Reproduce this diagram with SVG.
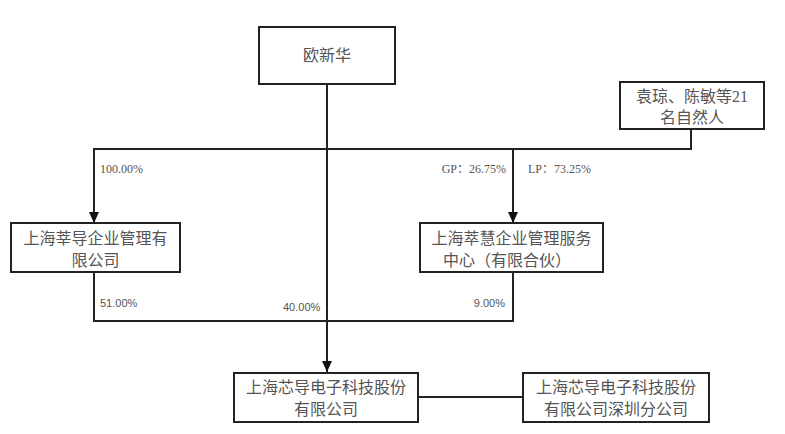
<svg xmlns="http://www.w3.org/2000/svg" width="785" height="434" viewBox="0 0 785 434">
<style>
.box{fill:#fff;stroke:#222;stroke-width:2}
.t{font-family:"Liberation Sans","Noto Sans CJK SC",sans-serif;font-size:16px;fill:#555;text-anchor:middle}
.sf{font-family:"Liberation Serif",serif}
.ln{fill:none;stroke:#222;stroke-width:2}
.ps{font-family:"Liberation Serif","Noto Sans CJK SC",serif;font-size:12px;fill:#555}
.pa{font-family:"Liberation Sans","Noto Sans CJK SC",sans-serif;font-size:11px;fill:#555}
</style>
<defs>
<marker id="arr" markerWidth="10" markerHeight="12" refX="11" refY="5" orient="auto" markerUnits="userSpaceOnUse">
<path d="M0,0 L11,5 L0,10 Z" fill="#111"/>
</marker>
</defs>
<rect width="785" height="434" fill="#fff"/>
<g id="connectors">
<path class="ln" d="M327,84 V372" marker-end="url(#arr)"/>
<path class="ln" d="M691,129 V149 H94 V223" marker-end="url(#arr)"/>
<path class="ln" d="M513,149 V223" marker-end="url(#arr)"/>
<path class="ln" d="M94,272 V321 H513 V272"/>
<path class="ln" d="M418,397 H523"/>
<text class="ps" x="100" y="173">100.00%</text>
<text class="ps" x="506" y="173" text-anchor="end">GP：26.75%</text>
<text class="ps" x="528" y="173">LP：73.25%</text>
<text class="pa" x="100" y="307">51.00%</text>
<text class="pa" x="283" y="311">40.00%</text>
<text class="pa" x="505" y="307" text-anchor="end">9.00%</text>
</g>
<g id="n1"><rect class="box" x="259" y="27" width="136" height="57"/><text class="t" x="327" y="61">欧新华</text></g>
<g id="n2"><rect class="box" x="620" y="82" width="144" height="47"/><text class="t" x="692" y="102">袁琼、陈敏等<tspan class="sf">21</tspan></text><text class="t" x="692" y="123">名自然人</text></g>
<g id="n3"><rect class="box" x="11" y="223" width="169" height="49"/><text class="t" x="95.5" y="244">上海莘导企业管理有</text><text class="t" x="95.5" y="266">限公司</text></g>
<g id="n4"><rect class="box" x="420" y="223" width="183" height="49"/><text class="t" x="511.5" y="244">上海萃慧企业管理服务</text><text class="t" x="507" y="266">中心（有限合伙）</text></g>
<g id="n5"><rect class="box" x="234" y="373" width="184" height="49"/><text class="t" x="326" y="393">上海芯导电子科技股份</text><text class="t" x="326" y="415">有限公司</text></g>
<g id="n6"><rect class="box" x="523" y="373" width="186" height="49"/><text class="t" x="616" y="393">上海芯导电子科技股份</text><text class="t" x="616" y="415">有限公司深圳分公司</text></g>
</svg>
